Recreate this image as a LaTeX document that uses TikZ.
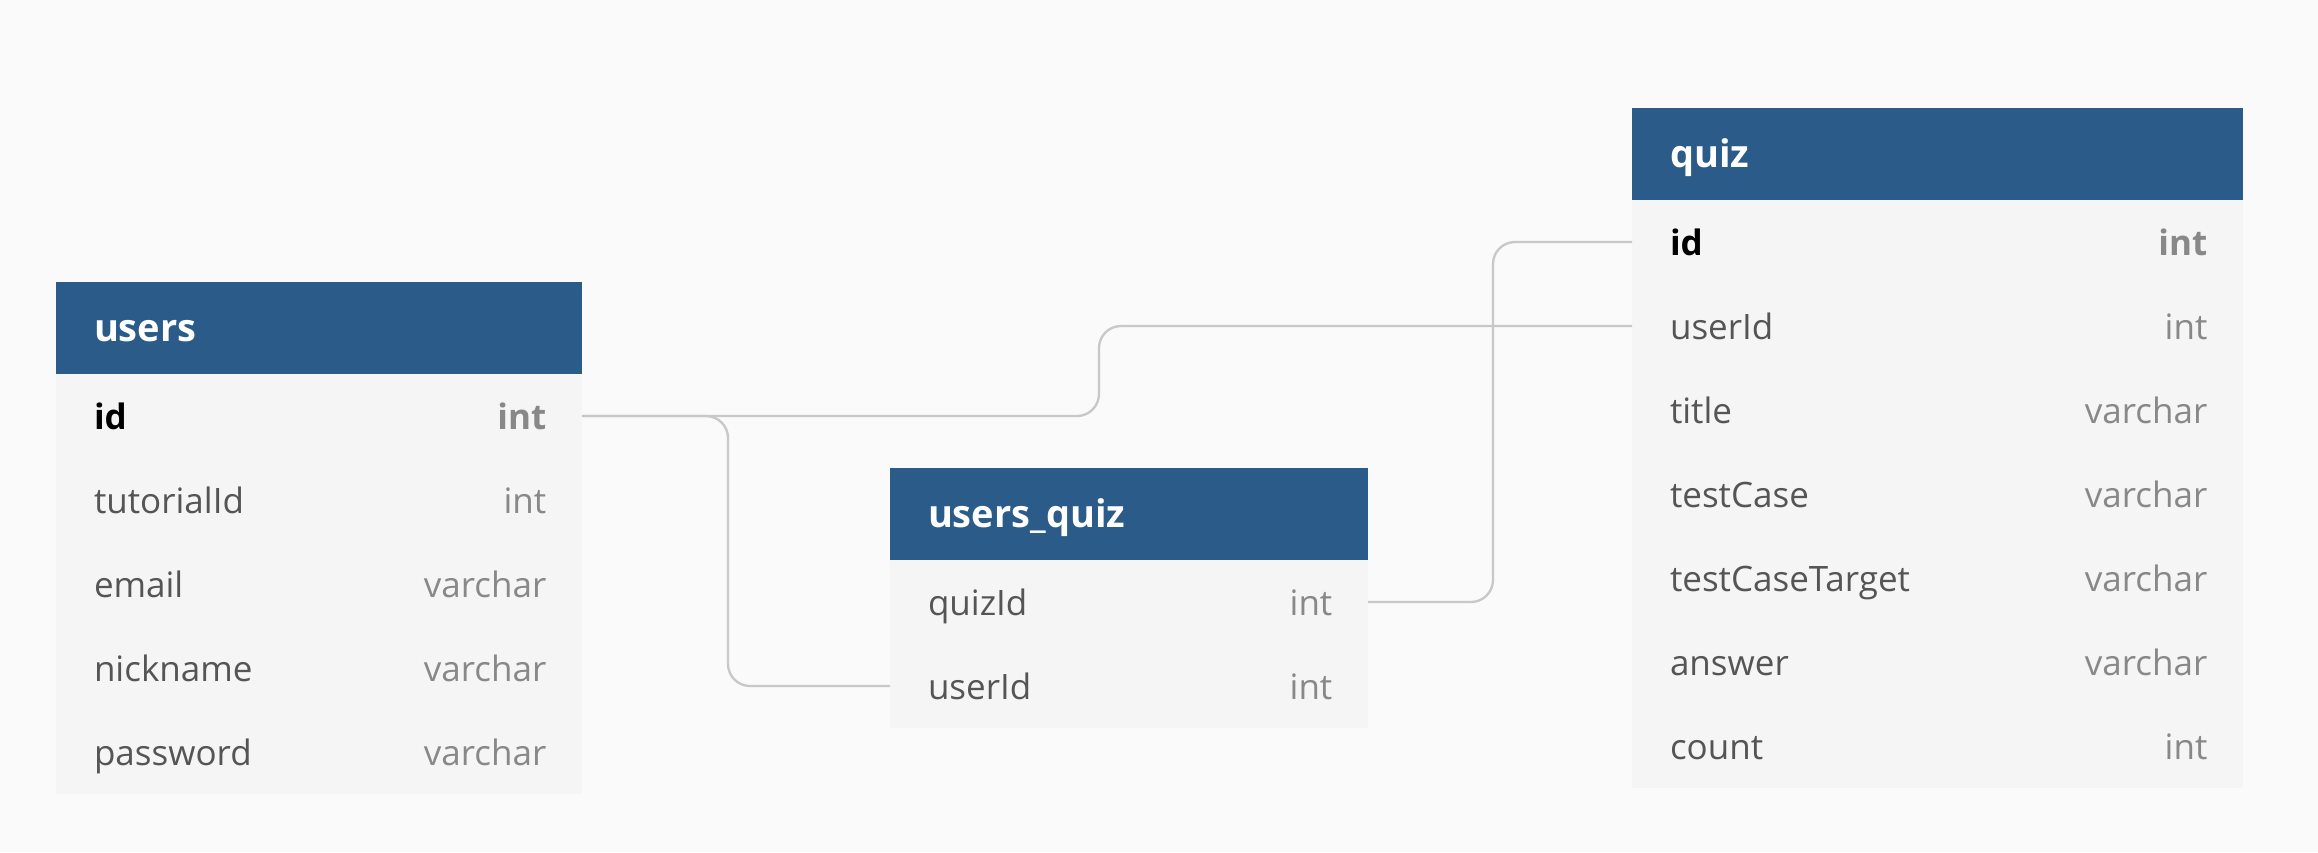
\documentclass[tikz,border=0pt]{standalone}
\usepackage{fontspec}
\setmainfont{Open Sans}
\usepackage{tikz}
\usetikzlibrary{calc}
\definecolor{bgcol}{RGB}{250,250,250}
\definecolor{hdrblue}{RGB}{43,91,137}
\definecolor{rowgray}{RGB}{245,245,245}
\definecolor{fldgray}{RGB}{85,85,85}
\definecolor{typgray}{RGB}{136,136,136}
\definecolor{linkgray}{RGB}{200,200,200}
\newcommand{\rowfont}{\fontsize{10.5pt}{12pt}\selectfont}
\newcommand{\hdrfont}{\fontsize{11.4pt}{13pt}\selectfont\bfseries}
\tikzset{
  hdr/.style={rectangle, fill=hdrblue, anchor=north west, outer sep=0pt,
    minimum height=27.6pt, inner xsep=11.4pt, inner ysep=0pt, text width=#1,
    align=left, text height=7.8pt, text depth=0pt, text=white, font=\hdrfont},
  fld/.style={rectangle, fill=rowgray, anchor=north west, outer sep=0pt,
    minimum height=25.2pt, inner xsep=11.4pt, inner ysep=0pt, text width=#1,
    align=left, text height=7.8pt, text depth=0pt, text=fldgray, font=\rowfont},
  pkfld/.style={fld=#1, text=black, font=\rowfont\bfseries},
  typ/.style={anchor=east, inner sep=0pt, text height=7.8pt, text depth=0pt,
    text=typgray, font=\rowfont},
  pktyp/.style={typ, font=\rowfont\bfseries},
  link/.style={draw=linkgray, line width=0.7pt, rounded corners=6.6pt},
}

\begin{document}
\begin{tikzpicture}[x=0.3pt, y=-0.3pt]
\fill[bgcol] (0,0) rectangle (2318,852);
\useasboundingbox (0,0) rectangle (2318,852);

% users
\node[hdr=135pt] (users) at (56,282) {users};
\node[pkfld=135pt] (users-id) at (56,374) {id};
\node[fld=135pt] (users-tutorialId) at (56,458) {tutorialId};
\node[fld=135pt] (users-email) at (56,542) {email};
\node[fld=135pt] (users-nickname) at (56,626) {nickname};
\node[fld=135pt] (users-password) at (56,710) {password};
\node[pktyp] (users-id-t) at ([xshift=-10.5pt]users-id.east) {int};
\node[typ] (users-tutorialId-t) at ([xshift=-10.5pt]users-tutorialId.east) {int};
\node[typ] (users-email-t) at ([xshift=-10.5pt]users-email.east) {varchar};
\node[typ] (users-nickname-t) at ([xshift=-10.5pt]users-nickname.east) {varchar};
\node[typ] (users-password-t) at ([xshift=-10.5pt]users-password.east) {varchar};

% users_quiz
\node[hdr=120.6pt] (uq) at (890,468) {users\_quiz};
\node[fld=120.6pt] (uq-quizId) at (890,560) {quizId};
\node[fld=120.6pt] (uq-userId) at (890,644) {userId};
\node[typ] (uq-quizId-t) at ([xshift=-10.5pt]uq-quizId.east) {int};
\node[typ] (uq-userId-t) at ([xshift=-10.5pt]uq-userId.east) {int};

% quiz
\node[hdr=160.5pt] (quiz) at (1632,108) {quiz};
\node[pkfld=160.5pt] (quiz-id) at (1632,200) {id};
\node[fld=160.5pt] (quiz-userId) at (1632,284) {userId};
\node[fld=160.5pt] (quiz-title) at (1632,368) {title};
\node[fld=160.5pt] (quiz-testCase) at (1632,452) {testCase};
\node[fld=160.5pt] (quiz-testCaseTarget) at (1632,536) {testCaseTarget};
\node[fld=160.5pt] (quiz-answer) at (1632,620) {answer};
\node[fld=160.5pt] (quiz-count) at (1632,704) {count};
\node[pktyp] (quiz-id-t) at ([xshift=-10.5pt]quiz-id.east) {int};
\node[typ] (quiz-userId-t) at ([xshift=-10.5pt]quiz-userId.east) {int};
\node[typ] (quiz-title-t) at ([xshift=-10.5pt]quiz-title.east) {varchar};
\node[typ] (quiz-testCase-t) at ([xshift=-10.5pt]quiz-testCase.east) {varchar};
\node[typ] (quiz-testCaseTarget-t) at ([xshift=-10.5pt]quiz-testCaseTarget.east) {varchar};
\node[typ] (quiz-answer-t) at ([xshift=-10.5pt]quiz-answer.east) {varchar};
\node[typ] (quiz-count-t) at ([xshift=-10.5pt]quiz-count.east) {int};

% links
\coordinate (bendA) at (1099,400);
\coordinate (bendB) at (728,500);
\coordinate (bendC) at (1493,400);
\draw[link] (users-id.east) -- (users-id.east -| bendA) -- (quiz-userId.west -| bendA) -- (quiz-userId.west);
\draw[link] (users-id.east) -- (users-id.east -| bendB) -- (uq-userId.west -| bendB) -- (uq-userId.west);
\draw[link] (uq-quizId.east) -- (uq-quizId.east -| bendC) -- (quiz-id.west -| bendC) -- (quiz-id.west);
\end{tikzpicture}
\end{document}
